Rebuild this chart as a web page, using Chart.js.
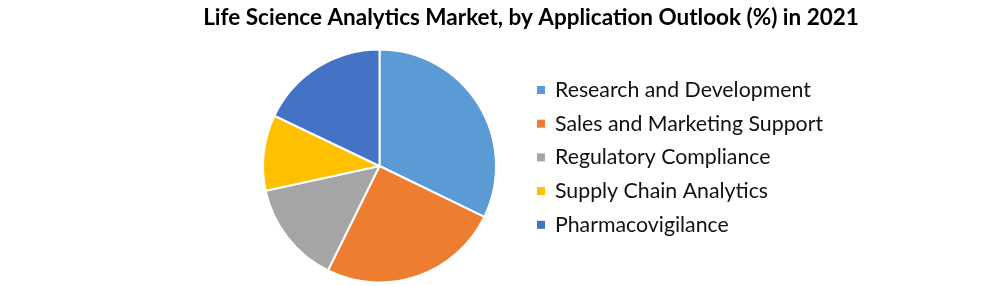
<!DOCTYPE html>
<html>
<head>
<meta charset="utf-8">
<script src="https://cdn.jsdelivr.net/npm/chart.js@4.4.0/dist/chart.umd.min.js"></script>
<style>
  html, body { margin: 0; padding: 0; background: #fff; }
  #wrap { width: 993px; height: 286px; }
</style>
</head>
<body>
<div id="wrap"><canvas id="myChart" width="993" height="286"></canvas></div>
<script>
var chartTitle = "Life Science Analytics Market, by Application Outlook (%) in 2021";
var categories = ["Research and Development", "Sales and Marketing Support", "Regulatory Compliance", "Supply Chain Analytics", "Pharmacovigilance"];
var shares = [32.2, 25.1, 14.3, 10.5, 17.9];
var sliceColors = ["#5B9BD5", "#ED7D31", "#A5A5A5", "#FFC000", "#4472C4"];

// title + legend drawn by hand so they sit where the original has them
var sideText = {
  id: "sideText",
  afterDraw: function (chart) {
    var ctx = chart.ctx;
    ctx.save();
    ctx.fillStyle = "#000";
    ctx.font = "bold 22.5px Lato";
    ctx.textAlign = "center";
    ctx.textBaseline = "middle";
    ctx.fillText(chartTitle, 531, 18);

    ctx.font = "21.3px Lato";
    ctx.textAlign = "left";
    chart.data.labels.forEach(function (label, i) {
      var y = 90 + i * 33.7;
      ctx.fillStyle = chart.data.datasets[0].backgroundColor[i];
      ctx.fillRect(537, y - 4, 8, 8);
      ctx.fillStyle = "#111";
      ctx.fillText(label, 555, y);
    });
    ctx.restore();
  }
};

var ctx = document.getElementById("myChart").getContext("2d");
var myChart = new Chart(ctx, {
  type: "pie",
  data: {
    labels: categories,
    datasets: [{
      data: shares,
      backgroundColor: sliceColors,
      borderColor: "#fff",
      borderWidth: 2
    }]
  },
  options: {
    responsive: false,
    animation: false,
    layout: {
      padding: { top: 48, bottom: 2, left: 262, right: 496 }
    },
    plugins: {
      legend: { display: false },
      title: { display: false },
      tooltip: { enabled: false }
    }
  },
  plugins: [sideText]
});
</script>
</body>
</html>
